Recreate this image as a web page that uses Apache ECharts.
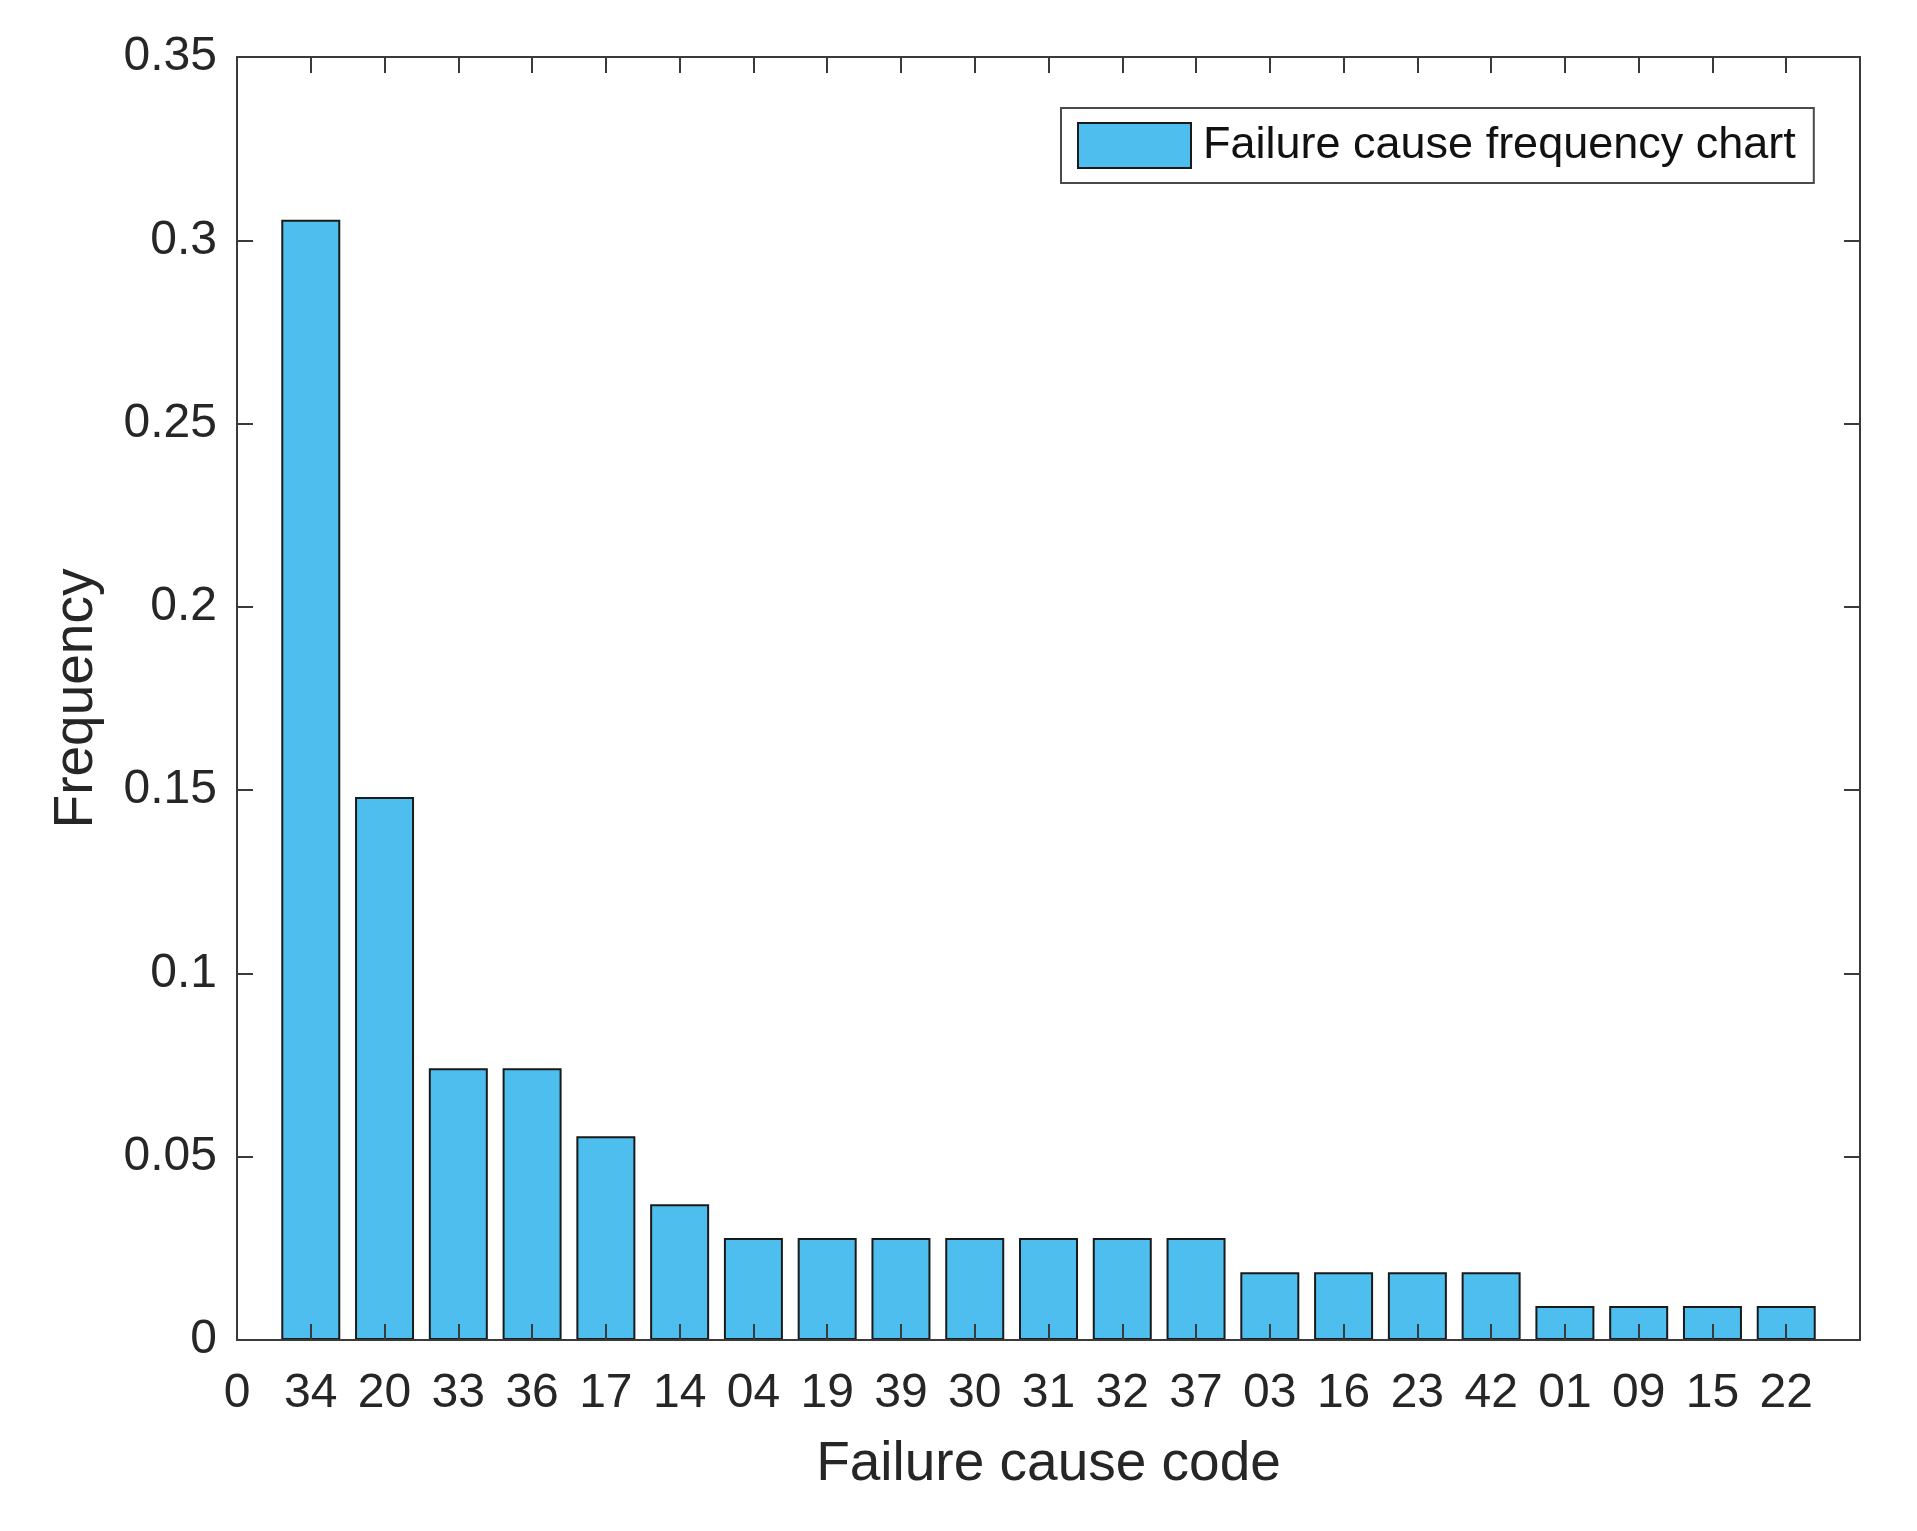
<!DOCTYPE html>
<html>
<head>
<meta charset="utf-8">
<script src="https://cdn.jsdelivr.net/npm/echarts@6/dist/echarts.min.js"></script>
<style>
html,body{margin:0;padding:0;background:#fff;}
#chart{width:1917px;height:1531px;}
</style>
</head>
<body>
<div id="chart"></div>
<script>
// Failure cause codes (bar order, left to right)
var causeCodes = ["34","20","33","36","17","14","04","19","39","30","31","32","37","03","16","23","42","01","09","15","22"];
// Frequency of each cause
var frequencies = [0.3056,0.1481,0.0741,0.0741,0.0556,0.0370,0.0278,0.0278,0.0278,0.0278,0.0278,0.0278,0.0278,0.0185,0.0185,0.0185,0.0185,0.0093,0.0093,0.0093,0.0093];
// X tick labels at positions 0..22
var xTickLabels = ["0"].concat(causeCodes).concat([""]);
var yTicks = [0,0.05,0.1,0.15,0.2,0.25,0.3,0.35];

var axisColor = '#3a3a3a';
var textColor = '#262626';
var fontFam = '"Liberation Sans", Arial, Helvetica, sans-serif';

var chart = echarts.init(document.getElementById('chart'), null, {renderer:'canvas'});
var barData = frequencies.map(function(v,i){ return [i+1, v]; });

chart.setOption({
  backgroundColor:'#ffffff',
  animation:false,
  textStyle:{fontFamily:fontFam},
  grid:{left:237, right:57, top:57, bottom:191, containLabel:false},
  legend:{
    show:true,
    left:1061, top:108,
    orient:'horizontal',
    padding:[14,18,14,16],
    borderColor:'#4a4a4a', borderWidth:2,
    backgroundColor:'#ffffff',
    itemWidth:113, itemHeight:45,
    textStyle:{fontSize:45, color:'#111', fontFamily:fontFam, padding:[0,0,0,7]},
    data:[{name:'Failure cause frequency chart', icon:'rect'}]
  },
  xAxis:[{
    type:'value', min:0, max:22, interval:1, position:'bottom', z:5,
    name:'Failure cause code', nameLocation:'middle', nameGap:97,
    nameTextStyle:{fontSize:55, color:textColor, fontFamily:fontFam},
    axisLine:{show:true, onZero:false, lineStyle:{color:axisColor, width:2}},
    axisTick:{show:true, inside:true, length:16, lineStyle:{color:axisColor, width:2}},
    axisLabel:{show:true, margin:30, fontSize:48, color:textColor, fontFamily:fontFam,
      formatter:function(v){ return xTickLabels[Math.round(v)] || ''; }},
    splitLine:{show:false}
  },{
    type:'value', min:0, max:22, interval:1, position:'top', z:5,
    axisLine:{show:true, onZero:false, lineStyle:{color:axisColor, width:2}},
    axisTick:{show:true, inside:true, length:16, lineStyle:{color:axisColor, width:2}},
    axisLabel:{show:false}, splitLine:{show:false}
  }],
  yAxis:[{
    type:'value', min:0, max:0.35, interval:0.05, position:'left', z:5,
    name:'Frequency', nameLocation:'middle', nameGap:133,
    nameTextStyle:{fontSize:55, color:textColor, fontFamily:fontFam},
    axisLine:{show:true, onZero:false, lineStyle:{color:axisColor, width:2}},
    axisTick:{show:true, inside:true, length:16, lineStyle:{color:axisColor, width:2}},
    axisLabel:{show:true, margin:20, fontSize:48, color:textColor, fontFamily:fontFam,
      formatter:function(v){
        for (var k=0;k<yTicks.length;k++){ if (Math.abs(yTicks[k]-v)<1e-9) return String(yTicks[k]); }
        return '';
      }},
    splitLine:{show:false}
  },{
    type:'value', min:0, max:0.35, interval:0.05, position:'right', z:5,
    axisLine:{show:true, onZero:false, lineStyle:{color:axisColor, width:2}},
    axisTick:{show:true, inside:true, length:16, lineStyle:{color:axisColor, width:2}},
    axisLabel:{show:false}, splitLine:{show:false}
  }],
  series:[{
    name:'Failure cause frequency chart',
    type:'bar',
    xAxisIndex:0, yAxisIndex:0,
    barWidth:59,
    z:2,
    itemStyle:{color:'#4DBEEE', borderColor:'#1a1a1a', borderWidth:2},
    data:barData
  }]
});
</script>
</body>
</html>
